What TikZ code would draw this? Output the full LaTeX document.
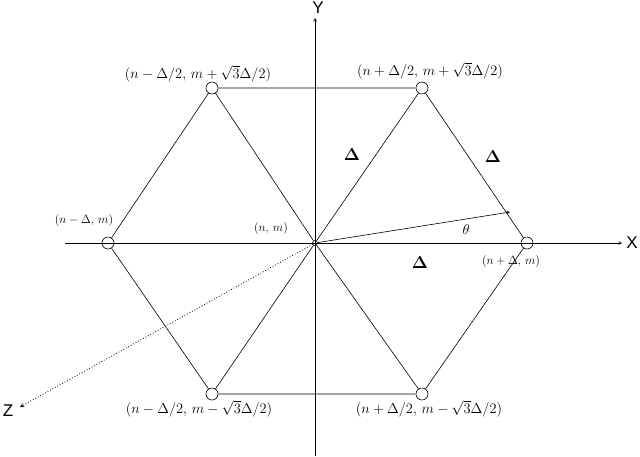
\documentclass[tikz,border=0pt]{standalone}
\usepackage{fontspec}
\newfontfamily\hv{Liberation Sans}
\begin{document}
\begin{tikzpicture}[x=1pt,y=-1pt,semithick,
  vtx/.style={circle,draw,inner sep=0pt,minimum size=12pt},
  lab/.style={font=\fontsize{14}{16}\selectfont},
  ax/.style={font=\hv\fontsize{17}{19}\selectfont},
  dl/.style={font=\fontsize{19}{21}\selectfont\boldmath}]
\useasboundingbox (0,0) rectangle (640,456);
\node[circle,draw,inner sep=0pt,minimum size=5pt] (c) at (315,243) {};
\node[vtx] (r) at (527,243) {};
\node[vtx] (l) at (108,243) {};
\node[vtx] (tl) at (212,88) {};
\node[vtx] (tr) at (422,88) {};
\node[vtx] (bl) at (212,394) {};
\node[vtx] (br) at (422,394) {};
\coordinate (yb) at (315,456);
\coordinate (yt) at (315,18);
\coordinate (xl) at (65,243);
\coordinate (xr) at (622,243);
\coordinate (zt) at (20,407);
\coordinate (th) at (510,212);
\draw[-stealth] (yb) -- (yt);
\draw[-stealth] (xl) -- (xr);
\draw[dotted,thick,-stealth] (c) -- (zt);
\draw[-stealth] (c) -- (th);
\draw (r) -- (tr) -- (tl) -- (l) -- (bl) -- (br) -- (r);
\foreach \v in {tl,tr,bl,br} \draw (c) -- (\v);
\node[ax] at (318,8) {Y};
\node[ax] at (632,243) {X};
\node[ax] at (8,411) {Z};
\node[lab] at (466,229) {$\theta$};
\node[dl] at (352,155) {$\Delta$};
\node[dl] at (493,157) {$\Delta$};
\node[dl] at (420,263) {$\Delta$};
\node[lab] at (198,74) {$\bigl(n-\Delta/2,\,m+\sqrt{3}\Delta/2\bigr)$};
\node[lab] at (430,71) {$\bigl(n+\Delta/2,\,m+\sqrt{3}\Delta/2\bigr)$};
\node[lab] at (199,409) {$\bigl(n-\Delta/2,\,m-\sqrt{3}\Delta/2\bigr)$};
\node[lab] at (429,409) {$\bigl(n+\Delta/2,\,m-\sqrt{3}\Delta/2\bigr)$};
\node[lab,font=\fontsize{12}{14}\selectfont] at (84,220) {$(n-\Delta,\,m)$};
\node[lab,font=\fontsize{12}{14}\selectfont] at (271,228) {$(n,\,m)$};
\node[lab,font=\fontsize{12}{14}\selectfont] at (511,261) {$(n+\Delta,\,m)$};
\end{tikzpicture}
\end{document}
